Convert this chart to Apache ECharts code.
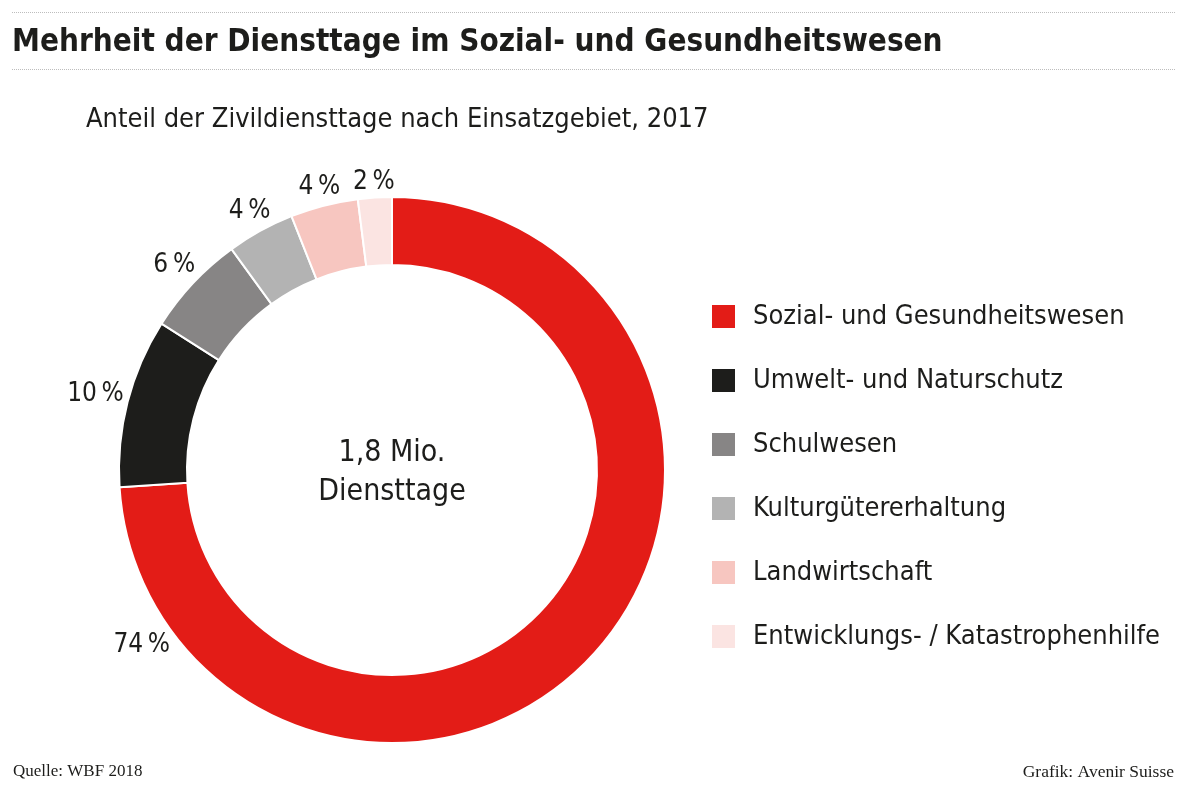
<!DOCTYPE html>
<html>
<head>
<meta charset="UTF-8">
<title>Mehrheit der Diensttage im Sozial- und Gesundheitswesen</title>
<script src="https://cdn.jsdelivr.net/npm/echarts@6/dist/echarts.min.js"></script>
<style>
  html, body { margin: 0; padding: 0; background: #fff; }
  #chart { width: 1188px; height: 792px; }
</style>
</head>
<body>
<div id="chart"></div>
<script>
// data
var categories = [
  'Sozial- und Gesundheitswesen',
  'Umwelt- und Naturschutz',
  'Schulwesen',
  'Kulturgütererhaltung',
  'Landwirtschaft',
  'Entwicklungs- / Katastrophenhilfe'
];
var shares = [74, 10, 6, 4, 4, 2];
var colors = ['#e31c17', '#1d1d1b', '#878585', '#b3b3b3', '#f7c6c0', '#fbe4e2'];

var titleText = 'Mehrheit der Diensttage im Sozial- und Gesundheitswesen';
var subtitleText = 'Anteil der Zivildiensttage nach Einsatzgebiet, 2017';
var centerText = '1,8 Mio.\nDiensttage';
var sourceText = 'Quelle: WBF 2018';
var creditText = 'Grafik: Avenir Suisse';

// layout
var FONT = '"DejaVu Sans Condensed", "DejaVu Sans", sans-serif';
var INK = '#1d1d1b';
var CX = 392, CY = 470, R_IN = 205, R_OUT = 273;
var LABEL_SIZE = 26;
var LABEL_GAP = 3;
var FIRST_LABEL_ANGLE = 215; // the big slice has its label at lower left

// mid angle of every slice (degrees, math convention), pie starts at top, clockwise
var total = shares.reduce(function (a, b) { return a + b; }, 0);
var midAngles = [];
var acc = 0;
for (var i = 0; i < shares.length; i++) {
  midAngles.push(90 - 360 * (acc + shares[i] / 2) / total);
  acc += shares[i];
}
midAngles[0] = FIRST_LABEL_ANGLE;

var pieData = categories.map(function (name, i) {
  return { name: name, value: shares[i], itemStyle: { color: colors[i] } };
});

var chart = echarts.init(document.getElementById('chart'));

var option = {
  backgroundColor: '#fff',
  animation: false,
  legend: {
    orient: 'vertical',
    left: 712,
    top: 303,
    padding: 0,
    icon: 'rect',
    itemWidth: 23,
    itemHeight: 23,
    itemGap: 37,
    selectedMode: false,
    itemStyle: { borderWidth: 0 },
    textStyle: {
      fontFamily: FONT,
      fontSize: 27,
      color: INK,
      padding: [0, 0, 0, 13]
    },
    data: categories
  },
  series: [{
    type: 'pie',
    center: [CX, CY],
    radius: [R_IN, R_OUT],
    startAngle: 90,
    clockwise: true,
    avoidLabelOverlap: false,
    silent: true,
    itemStyle: { borderColor: '#fff', borderWidth: 2 },
    label: {
      show: true,
      position: 'outside',
      formatter: function (p) { return p.value + '\u2009%'; },
      fontFamily: FONT,
      fontSize: LABEL_SIZE,
      color: INK
    },
    labelLine: { show: false },
    labelLayout: function (p) {
      var a = midAngles[p.dataIndex] * Math.PI / 180;
      var hw = p.labelRect.width / 2, hh = LABEL_SIZE * 0.42;
      var r = R_OUT + LABEL_GAP + hw * Math.abs(Math.cos(a)) + hh * Math.abs(Math.sin(a));
      return {
        x: CX + r * Math.cos(a),
        y: CY - r * Math.sin(a),
        align: 'center',
        verticalAlign: 'middle'
      };
    },
    data: pieData
  }],
  graphic: [
    { type: 'line', shape: { x1: 12, y1: 12.5, x2: 1176, y2: 12.5 },
      style: { stroke: '#bdbdbd', lineWidth: 1, lineDash: [1, 1] } },
    { type: 'line', shape: { x1: 12, y1: 69.5, x2: 1176, y2: 69.5 },
      style: { stroke: '#bdbdbd', lineWidth: 1, lineDash: [1, 1] } },
    { type: 'text', left: 12, top: 27,
      style: { text: titleText, fontFamily: FONT, fontWeight: 'bold', fontSize: 31.2, fill: INK } },
    { type: 'text', left: 86, top: 106,
      style: { text: subtitleText, fontFamily: FONT, fontSize: 27, fill: INK } },
    { type: 'text', x: CX, y: CY + 3,
      style: { text: centerText, fontFamily: FONT, fontSize: 30, lineHeight: 39, fill: INK,
               align: 'center', verticalAlign: 'middle' } },
    { type: 'text', left: 13, top: 763,
      style: { text: sourceText, fontFamily: '"Liberation Serif", serif', fontSize: 17, fill: INK } },
    { type: 'text', right: 14, top: 763,
      style: { text: creditText, fontFamily: '"Liberation Serif", serif', fontSize: 17.5, fill: INK } }
  ]
};

chart.setOption(option);
</script>
</body>
</html>
